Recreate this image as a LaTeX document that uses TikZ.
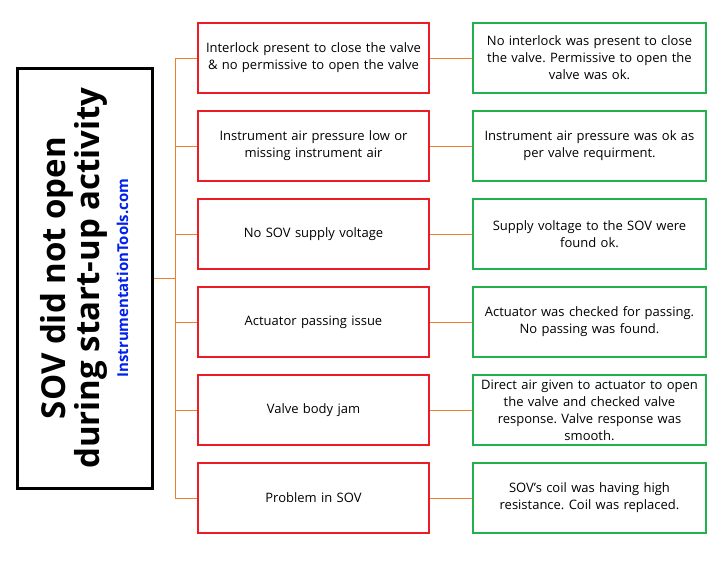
\documentclass[tikz,border=0pt]{standalone}
\usepackage{fontspec}
\setmainfont{Open Sans}
\frenchspacing
\usetikzlibrary{positioning}
\definecolor{boxred}{RGB}{237,28,36}
\definecolor{boxgreen}{RGB}{34,177,76}
\definecolor{linkor}{RGB}{237,125,49}
\definecolor{siteblue}{RGB}{0,32,240}
\begin{document}
\begin{tikzpicture}[x=1pt,y=-1pt]
 \tikzstyle{cause}=[draw=boxred,line width=2pt,minimum width=231pt,minimum height=70pt,text width=224pt,align=center,font=\fontsize{13}{17}\selectfont]
 \tikzstyle{check}=[draw=boxgreen,line width=2pt,minimum width=231pt,minimum height=70pt,text width=226pt,align=center,font=\fontsize{13}{17}\selectfont]
 \tikzstyle{link}=[draw=linkor,line width=1pt]
 \useasboundingbox (0,0) rectangle (720,562);
 %
 \node[draw,line width=3pt,minimum width=420pt,minimum height=135pt,rotate=90,align=center] (T) at (84.5,278)
  {\fontsize{33}{44}\selectfont\bfseries SOV did not open\\
   \fontsize{33}{44}\selectfont\bfseries during start-up activity\\[8pt]
   \fontsize{15}{18}\selectfont\bfseries\color{siteblue}InstrumentationTools.com};
 %
 \node[cause] (C1) at (313.5,58) {Interlock present to close the valve\\ \& no permissive to open the valve};
 \node[cause] (C2) at (313.5,146) {Instrument air pressure low or\\ missing instrument air};
 \node[cause] (C3) at (313.5,234) {No SOV supply voltage};
 \node[cause] (C4) at (313.5,322) {Actuator passing issue};
 \node[cause] (C5) at (313.5,410) {Valve body jam};
 \node[cause] (C6) at (313.5,498) {Problem in SOV};
 %
 \node[check] (K1) at (589.5,58) {No interlock was present to close\\ the valve. Permissive to open the\\ valve was ok.};
 \node[check] (K2) at (589.5,146) {Instrument air pressure was ok as\\ per valve requirment.};
 \node[check] (K3) at (589.5,234) {Supply voltage to the SOV were\\ found ok.};
 \node[check] (K4) at (589.5,322) {Actuator was checked for passing.\\ No passing was found.};
 \node[check] (K5) at (589.5,410) {Direct air given to actuator to open\\ the valve and checked valve\\ response. Valve response was\\ smooth.};
 \node[check] (K6) at (589.5,498) {SOV's coil was having high\\ resistance. Coil was replaced.};
 %
 \coordinate (top) at (175,58);
 \coordinate (bot) at (175,498);
 \coordinate (mid) at (175,278);
 \draw[link] (top)--(bot);
 \draw[link] (T.south)--(mid);
 \foreach \i in {1,...,6}{
  \draw[link] (175,0|-C\i.west)--(C\i.west);
  \draw[link] (C\i.east)--(K\i.west);
 }
\end{tikzpicture}
\end{document}
